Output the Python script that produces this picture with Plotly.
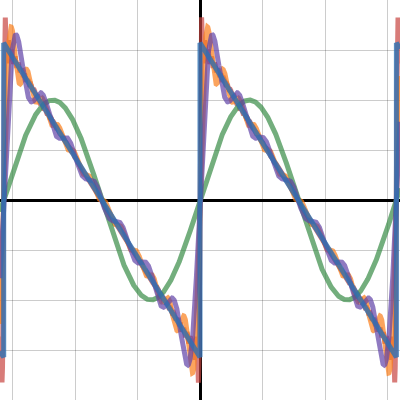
import numpy as np
import plotly.graph_objects as go

x_range = [-6.4, 6.4]
y_range = [-4, 4]
series_names = ["red", "orange", "green", "purple", "blue"]
series_terms = [60, 12, 1, 7, 0]  # 0 = exact sawtooth
series_colors = ["rgba(199,68,64,0.7)", "rgba(250,126,25,0.7)", "rgba(56,140,70,0.7)",
                 "rgba(96,66,166,0.7)", "rgba(45,112,179,0.8)"]

x = np.linspace(x_range[0], x_range[1], 4001)
fig = go.Figure()
for name, n, c in zip(series_names, series_terms, series_colors):
    if n == 0:
        y = np.pi - (x % (2 * np.pi))
        xs, ys = [], []
        for i in range(len(x)):
            if i > 0 and y[i] > y[i-1]:
                xs += [x[i], x[i]]; ys += [-np.pi, np.pi]
            xs.append(x[i]); ys.append(y[i])
        x_p, y_p = xs, ys
    else:
        k = np.arange(1, n + 1)
        y_p = ((2 / k)[None, :] * np.sin(np.outer(x, k))).sum(axis=1)
        x_p = x
    fig.add_trace(go.Scatter(x=x_p, y=y_p, mode="lines", name=name,
                             line=dict(color=c, width=5)))

fig.update_layout(width=400, height=400, margin=dict(l=0, r=0, t=0, b=0),
                  plot_bgcolor="white", paper_bgcolor="white", showlegend=False)
fig.update_xaxes(range=x_range, dtick=2, showticklabels=False, gridcolor="rgba(0,0,0,0.2)",
                 zeroline=True, zerolinecolor="black", zerolinewidth=3)
fig.update_yaxes(range=y_range, dtick=1, showticklabels=False, gridcolor="rgba(0,0,0,0.2)",
                 zeroline=True, zerolinecolor="black", zerolinewidth=3)
fig.write_html("out.html", config={"displayModeBar": False},
               post_script="document.body.style.margin='0';")
